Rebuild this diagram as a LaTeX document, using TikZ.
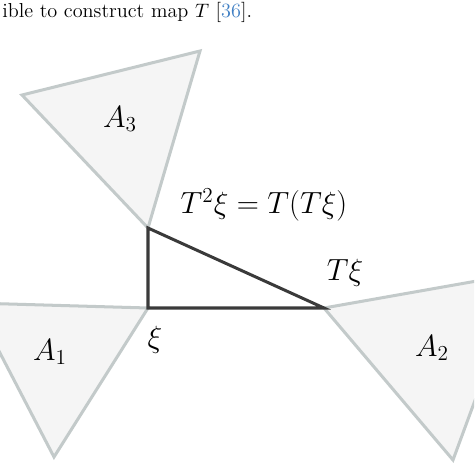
\documentclass[tikz,border=0pt]{standalone}
\usepackage{amsmath}
\usepackage{xcolor}
\usetikzlibrary{positioning}

\definecolor{cellfill}{HTML}{F5F5F5}
\definecolor{celledge}{HTML}{C3CACA}
\definecolor{orbitdark}{HTML}{3A3A3A}
\definecolor{citeblue}{HTML}{3F7FC4}

\begin{document}
\begin{tikzpicture}[x=0.0198cm,y=-0.0198cm,
    cell/.style={fill=cellfill, draw=celledge, line width=1.7pt, line join=miter},
    orbit/.style={draw=orbitdark, line width=1.7pt, line join=miter},
    lab/.style={inner sep=0pt, font=\fontsize{17}{20}\selectfont}]
\useasboundingbox (0,0) rectangle (474,474);
\clip (0,0) rectangle (474,474);

% caption line
\node[anchor=base west, inner sep=0pt, font=\fontsize{11.4}{13}\selectfont] (cap) at (2,18)
    {ible to construct map $T$ [\textcolor{citeblue}{36}].};

% orbit points
\coordinate (xi) at (148,308);
\coordinate (Txi) at (324,308);
\coordinate (TTxi) at (148,228);

% cells A_1, A_2, A_3
\draw[cell] (xi) -- (-26,303) -- (54,457) -- cycle;
\draw[cell] (Txi) -- (522,273) -- (453,460) -- cycle;
\draw[cell] (TTxi) -- (22,95) -- (200,51) -- cycle;

\node[lab] (a1) at (50,352) {$A_1$};
\node[lab] (a2) at (432,348) {$A_2$};
\node[lab] (a3) at (120,119) {$A_3$};

% the orbit triangle
\draw[orbit] (xi) -- (Txi) -- (TTxi) -- cycle;

\node[lab] (lxi) at (155,340) {$\xi$};
\node[lab] (lTxi) at (345,273) {$T\xi$};
\node[lab] (lTTxi) at (264,205) {$T^2\xi = T(T\xi)$};

\end{tikzpicture}
\end{document}
